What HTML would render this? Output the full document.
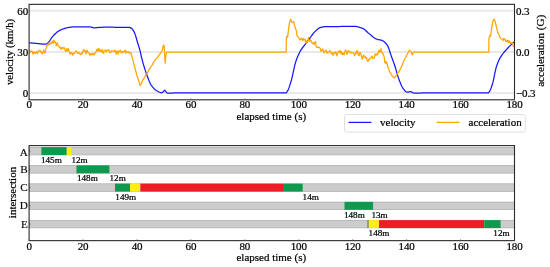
<!DOCTYPE html>
<html><head><meta charset="utf-8"><title>velocity / acceleration / intersection</title>
<style>
html,body{margin:0;padding:0;background:#fff;}
svg{display:block;font-family:"Liberation Serif", "DejaVu Serif", serif;}
text{fill:#000;stroke:#000;stroke-width:0.22px;}
.tk{font-size:11px;letter-spacing:-0.15px;}
.lb{font-size:11px;}
.an{font-size:9.15px;letter-spacing:0.02px;}
.yl{font-size:11.2px;stroke-width:0.15px;}
</style></head><body>
<svg width="550" height="267" viewBox="0 0 550 267">
<rect width="550" height="267" fill="#fff"/>

<line x1="29.1" x2="514.5" y1="10.7" y2="10.7" stroke="#e9e9e9" stroke-width="2"/>
<line x1="29.1" x2="514.5" y1="51.9" y2="51.9" stroke="#e9e9e9" stroke-width="2"/>
<line x1="29.1" x2="514.5" y1="93.1" y2="93.1" stroke="#e9e9e9" stroke-width="2"/>
<clipPath id="ct"><rect x="29.1" y="4.35" width="485.4" height="95.45"/></clipPath>
<g clip-path="url(#ct)" fill="none" stroke-linejoin="round">
<path d="M29.2,42.80 L29.7,42.84 L30.2,42.88 L30.7,42.92 L31.2,42.96 L31.7,43.01 L32.2,43.05 L32.7,43.09 L33.2,43.14 L33.7,43.18 L34.2,43.23 L34.7,43.27 L35.2,43.32 L35.7,43.37 L36.2,43.42 L36.7,43.47 L37.2,43.52 L37.7,43.58 L38.2,43.63 L38.7,43.68 L39.2,43.73 L39.7,43.77 L40.2,43.82 L40.7,43.86 L41.2,43.91 L41.7,43.96 L42.2,44.01 L42.7,44.05 L43.2,44.10 L43.7,44.13 L44.2,44.16 L44.7,44.19 L45.2,44.20 L45.7,44.18 L46.2,43.98 L46.7,43.65 L47.2,43.30 L47.7,42.93 L48.2,42.50 L48.7,42.02 L49.2,41.47 L49.7,40.80 L50.2,40.04 L50.7,39.24 L51.2,38.44 L51.7,37.70 L52.2,37.05 L52.7,36.45 L53.2,35.87 L53.7,35.33 L54.2,34.80 L54.7,34.29 L55.2,33.81 L55.7,33.33 L56.2,32.86 L56.7,32.41 L57.2,31.99 L57.7,31.61 L58.2,31.27 L58.7,30.96 L59.2,30.68 L59.7,30.41 L60.2,30.16 L60.7,29.93 L61.2,29.71 L61.7,29.51 L62.2,29.32 L62.7,29.14 L63.2,28.97 L63.7,28.80 L64.2,28.63 L64.7,28.47 L65.2,28.31 L65.7,28.15 L66.2,28.00 L66.7,27.87 L67.2,27.76 L67.7,27.65 L68.2,27.54 L68.7,27.44 L69.2,27.35 L69.7,27.26 L70.2,27.19 L70.7,27.13 L71.2,27.08 L71.7,27.04 L72.2,26.99 L72.7,26.95 L73.2,26.91 L73.7,26.88 L74.2,26.85 L74.7,26.83 L75.2,26.81 L75.7,26.80 L76.2,26.80 L76.7,26.80 L77.2,26.80 L77.7,26.80 L78.2,26.80 L78.7,26.80 L79.2,26.80 L79.7,26.80 L80.2,26.80 L80.7,26.80 L81.2,26.80 L81.7,26.80 L82.2,26.80 L82.7,26.80 L83.2,26.80 L83.7,26.80 L84.2,26.80 L84.7,26.80 L85.2,26.80 L85.7,26.80 L86.2,26.80 L86.7,26.80 L87.2,26.80 L87.7,26.80 L88.2,26.80 L88.7,26.80 L89.2,26.80 L89.7,26.81 L90.2,26.88 L90.7,26.99 L91.2,27.14 L91.7,27.30 L92.2,27.46 L92.7,27.61 L93.2,27.72 L93.7,27.79 L94.2,27.80 L94.7,27.79 L95.2,27.77 L95.7,27.74 L96.2,27.70 L96.7,27.66 L97.2,27.62 L97.7,27.57 L98.2,27.53 L98.7,27.49 L99.2,27.45 L99.7,27.42 L100.2,27.39 L100.7,27.36 L101.2,27.34 L101.7,27.31 L102.2,27.28 L102.7,27.26 L103.2,27.24 L103.7,27.22 L104.2,27.21 L104.7,27.20 L105.2,27.20 L105.7,27.20 L106.2,27.20 L106.7,27.20 L107.2,27.20 L107.7,27.21 L108.2,27.21 L108.7,27.21 L109.2,27.21 L109.7,27.22 L110.2,27.22 L110.7,27.22 L111.2,27.23 L111.7,27.23 L112.2,27.24 L112.7,27.24 L113.2,27.24 L113.7,27.25 L114.2,27.25 L114.7,27.26 L115.2,27.26 L115.7,27.27 L116.2,27.27 L116.7,27.28 L117.2,27.28 L117.7,27.28 L118.2,27.29 L118.7,27.29 L119.2,27.29 L119.7,27.30 L120.2,27.30 L120.7,27.30 L121.2,27.31 L121.7,27.31 L122.2,27.31 L122.7,27.31 L123.2,27.31 L123.7,27.31 L124.2,27.32 L124.7,27.32 L125.2,27.32 L125.7,27.32 L126.2,27.32 L126.7,27.33 L127.2,27.33 L127.7,27.34 L128.2,27.34 L128.7,27.35 L129.2,27.36 L129.7,27.45 L130.2,27.62 L130.7,27.85 L131.2,28.13 L131.7,28.44 L132.2,28.91 L132.7,29.53 L133.2,30.28 L133.7,31.10 L134.2,32.09 L134.7,33.30 L135.2,34.65 L135.7,36.09 L136.2,37.72 L136.7,39.49 L137.2,41.27 L137.7,42.96 L138.2,44.55 L138.7,46.11 L139.2,47.71 L139.7,49.41 L140.2,51.28 L140.7,53.46 L141.2,55.76 L141.7,57.99 L142.2,59.96 L142.7,61.80 L143.2,63.58 L143.7,65.31 L144.2,66.97 L144.7,68.58 L145.2,70.13 L145.7,71.62 L146.2,73.06 L146.7,74.45 L147.2,75.84 L147.7,77.22 L148.2,78.58 L148.7,79.89 L149.2,81.14 L149.7,82.30 L150.2,83.36 L150.7,84.30 L151.2,85.10 L151.7,85.80 L152.2,86.47 L152.7,87.11 L153.2,87.70 L153.7,88.26 L154.2,88.78 L154.7,89.26 L155.2,89.69 L155.7,90.09 L156.2,90.44 L156.7,90.74 L157.2,91.02 L157.7,91.30 L158.2,91.56 L158.7,91.82 L159.2,92.04 L159.7,92.24 L160.2,92.41 L160.7,92.52 L161.2,92.59 L161.7,92.58 L162.2,92.41 L162.7,92.12 L163.2,91.77 L163.7,91.26 L164.2,90.56 L164.7,90.20 L165.2,90.62 L165.7,91.37 L166.2,92.06 L166.7,92.76 L167.2,93.00 L167.7,93.00 L168.2,93.00 L168.7,93.00 L169.2,93.00 L169.7,93.00 L170.2,93.00 L170.7,93.00 L171.2,93.00 L171.7,93.00 L172.2,93.00 L172.7,93.00 L173.2,93.00 L173.7,92.99 L174.2,92.99 L174.7,92.99 L175.2,92.99 L175.7,92.99 L176.2,92.99 L176.7,92.99 L177.2,92.99 L177.7,92.99 L178.2,92.99 L178.7,92.99 L179.2,92.98 L179.7,92.98 L180.2,92.98 L180.7,92.98 L181.2,92.98 L181.7,92.98 L182.2,92.98 L182.7,92.98 L183.2,92.98 L183.7,92.97 L184.2,92.97 L184.7,92.97 L185.2,92.97 L185.7,92.97 L186.2,92.97 L186.7,92.97 L187.2,92.97 L187.7,92.97 L188.2,92.96 L188.7,92.96 L189.2,92.96 L189.7,92.96 L190.2,92.96 L190.7,92.96 L191.2,92.96 L191.7,92.96 L192.2,92.96 L192.7,92.96 L193.2,92.96 L193.7,92.95 L194.2,92.95 L194.7,92.95 L195.2,92.95 L195.7,92.95 L196.2,92.95 L196.7,92.95 L197.2,92.95 L197.7,92.95 L198.2,92.95 L198.7,92.95 L199.2,92.95 L199.7,92.95 L200.2,92.95 L200.7,92.95 L201.2,92.95 L201.7,92.95 L202.2,92.95 L202.7,92.95 L203.2,92.95 L203.7,92.95 L204.2,92.95 L204.7,92.95 L205.2,92.95 L205.7,92.95 L206.2,92.95 L206.7,92.95 L207.2,92.95 L207.7,92.95 L208.2,92.95 L208.7,92.95 L209.2,92.95 L209.7,92.95 L210.2,92.95 L210.7,92.95 L211.2,92.95 L211.7,92.95 L212.2,92.95 L212.7,92.95 L213.2,92.95 L213.7,92.95 L214.2,92.95 L214.7,92.95 L215.2,92.95 L215.7,92.95 L216.2,92.95 L216.7,92.95 L217.2,92.95 L217.7,92.95 L218.2,92.95 L218.7,92.95 L219.2,92.95 L219.7,92.95 L220.2,92.95 L220.7,92.95 L221.2,92.95 L221.7,92.95 L222.2,92.95 L222.7,92.95 L223.2,92.95 L223.7,92.95 L224.2,92.95 L224.7,92.95 L225.2,92.95 L225.7,92.95 L226.2,92.95 L226.7,92.95 L227.2,92.95 L227.7,92.95 L228.2,92.95 L228.7,92.95 L229.2,92.95 L229.7,92.95 L230.2,92.95 L230.7,92.95 L231.2,92.95 L231.7,92.95 L232.2,92.95 L232.7,92.95 L233.2,92.95 L233.7,92.95 L234.2,92.95 L234.7,92.95 L235.2,92.95 L235.7,92.95 L236.2,92.95 L236.7,92.95 L237.2,92.95 L237.7,92.95 L238.2,92.95 L238.7,92.95 L239.2,92.95 L239.7,92.95 L240.2,92.95 L240.7,92.95 L241.2,92.95 L241.7,92.95 L242.2,92.95 L242.7,92.95 L243.2,92.95 L243.7,92.95 L244.2,92.95 L244.7,92.95 L245.2,92.95 L245.7,92.95 L246.2,92.95 L246.7,92.95 L247.2,92.95 L247.7,92.95 L248.2,92.95 L248.7,92.95 L249.2,92.95 L249.7,92.95 L250.2,92.95 L250.7,92.95 L251.2,92.95 L251.7,92.95 L252.2,92.95 L252.7,92.95 L253.2,92.95 L253.7,92.95 L254.2,92.95 L254.7,92.95 L255.2,92.95 L255.7,92.95 L256.2,92.95 L256.7,92.95 L257.2,92.95 L257.7,92.95 L258.2,92.95 L258.7,92.95 L259.2,92.95 L259.7,92.95 L260.2,92.95 L260.7,92.95 L261.2,92.95 L261.7,92.95 L262.2,92.95 L262.7,92.95 L263.2,92.95 L263.7,92.95 L264.2,92.95 L264.7,92.95 L265.2,92.95 L265.7,92.95 L266.2,92.95 L266.7,92.95 L267.2,92.95 L267.7,92.95 L268.2,92.95 L268.7,92.95 L269.2,92.95 L269.7,92.95 L270.2,92.95 L270.7,92.95 L271.2,92.95 L271.7,92.95 L272.2,92.95 L272.7,92.95 L273.2,92.95 L273.7,92.95 L274.2,92.95 L274.7,92.95 L275.2,92.95 L275.7,92.95 L276.2,92.95 L276.7,92.95 L277.2,92.95 L277.7,92.95 L278.2,92.95 L278.7,92.95 L279.2,92.95 L279.7,92.95 L280.2,92.95 L280.7,92.95 L281.2,92.95 L281.7,92.95 L282.2,92.95 L282.7,92.95 L283.2,92.95 L283.7,92.95 L284.2,92.95 L284.7,92.95 L285.2,92.95 L285.7,92.95 L286.2,92.79 L286.7,92.23 L287.2,91.47 L287.7,90.67 L288.2,89.68 L288.7,88.49 L289.2,87.13 L289.7,85.65 L290.2,84.08 L290.7,82.47 L291.2,80.83 L291.7,78.98 L292.2,76.91 L292.7,74.70 L293.2,72.41 L293.7,70.10 L294.2,67.83 L294.7,65.67 L295.2,63.68 L295.7,61.92 L296.2,60.43 L296.7,59.07 L297.2,57.77 L297.7,56.54 L298.2,55.38 L298.7,54.27 L299.2,53.23 L299.7,52.24 L300.2,51.31 L300.7,50.43 L301.2,49.60 L301.7,48.83 L302.2,48.14 L302.7,47.49 L303.2,46.88 L303.7,46.26 L304.2,45.63 L304.7,44.98 L305.2,44.33 L305.7,43.68 L306.2,43.04 L306.7,42.40 L307.2,41.75 L307.7,41.11 L308.2,40.46 L308.7,39.80 L309.2,39.13 L309.7,38.43 L310.2,37.71 L310.7,36.99 L311.2,36.26 L311.7,35.55 L312.2,34.85 L312.7,34.18 L313.2,33.54 L313.7,32.95 L314.2,32.40 L314.7,31.90 L315.2,31.39 L315.7,30.89 L316.2,30.40 L316.7,29.93 L317.2,29.48 L317.7,29.06 L318.2,28.68 L318.7,28.34 L319.2,28.05 L319.7,27.81 L320.2,27.63 L320.7,27.47 L321.2,27.32 L321.7,27.18 L322.2,27.05 L322.7,26.94 L323.2,26.84 L323.7,26.77 L324.2,26.72 L324.7,26.70 L325.2,26.68 L325.7,26.67 L326.2,26.66 L326.7,26.65 L327.2,26.64 L327.7,26.63 L328.2,26.62 L328.7,26.61 L329.2,26.60 L329.7,26.60 L330.2,26.59 L330.7,26.59 L331.2,26.58 L331.7,26.58 L332.2,26.57 L332.7,26.57 L333.2,26.56 L333.7,26.56 L334.2,26.56 L334.7,26.55 L335.2,26.55 L335.7,26.54 L336.2,26.54 L336.7,26.54 L337.2,26.53 L337.7,26.53 L338.2,26.52 L338.7,26.52 L339.2,26.51 L339.7,26.50 L340.2,26.50 L340.7,26.49 L341.2,26.48 L341.7,26.47 L342.2,26.46 L342.7,26.46 L343.2,26.45 L343.7,26.44 L344.2,26.43 L344.7,26.42 L345.2,26.41 L345.7,26.40 L346.2,26.39 L346.7,26.38 L347.2,26.37 L347.7,26.36 L348.2,26.35 L348.7,26.34 L349.2,26.34 L349.7,26.33 L350.2,26.32 L350.7,26.32 L351.2,26.31 L351.7,26.31 L352.2,26.30 L352.7,26.30 L353.2,26.30 L353.7,26.30 L354.2,26.31 L354.7,26.34 L355.2,26.37 L355.7,26.41 L356.2,26.47 L356.7,26.56 L357.2,26.67 L357.7,26.80 L358.2,26.95 L358.7,27.10 L359.2,27.25 L359.7,27.41 L360.2,27.56 L360.7,27.71 L361.2,27.86 L361.7,28.03 L362.2,28.21 L362.7,28.42 L363.2,28.65 L363.7,28.93 L364.2,29.28 L364.7,29.66 L365.2,30.09 L365.7,30.54 L366.2,31.02 L366.7,31.50 L367.2,31.97 L367.7,32.44 L368.2,32.89 L368.7,33.30 L369.2,33.70 L369.7,34.12 L370.2,34.54 L370.7,34.97 L371.2,35.40 L371.7,35.83 L372.2,36.25 L372.7,36.66 L373.2,37.05 L373.7,37.43 L374.2,37.78 L374.7,38.11 L375.2,38.41 L375.7,38.67 L376.2,38.90 L376.7,39.09 L377.2,39.26 L377.7,39.40 L378.2,39.53 L378.7,39.64 L379.2,39.75 L379.7,39.86 L380.2,39.97 L380.7,40.09 L381.2,40.22 L381.7,40.38 L382.2,40.55 L382.7,40.76 L383.2,41.01 L383.7,41.36 L384.2,41.77 L384.7,42.22 L385.2,42.69 L385.7,43.18 L386.2,43.72 L386.7,44.33 L387.2,45.03 L387.7,45.85 L388.2,46.92 L388.7,48.21 L389.2,49.66 L389.7,51.21 L390.2,52.79 L390.7,54.34 L391.2,55.80 L391.7,57.18 L392.2,58.54 L392.7,59.90 L393.2,61.26 L393.7,62.64 L394.2,64.05 L394.7,65.50 L395.2,67.02 L395.7,68.65 L396.2,70.38 L396.7,72.14 L397.2,73.90 L397.7,75.59 L398.2,77.18 L398.7,78.60 L399.2,79.93 L399.7,81.24 L400.2,82.53 L400.7,83.76 L401.2,84.94 L401.7,86.03 L402.2,87.02 L402.7,87.90 L403.2,88.64 L403.7,89.27 L404.2,89.88 L404.7,90.47 L405.2,91.01 L405.7,91.47 L406.2,91.83 L406.7,92.04 L407.2,92.10 L407.7,92.07 L408.2,92.02 L408.7,91.95 L409.2,91.87 L409.7,91.79 L410.2,91.74 L410.7,91.70 L411.2,91.74 L411.7,91.96 L412.2,92.28 L412.7,92.62 L413.2,92.89 L413.7,93.00 L414.2,93.00 L414.7,93.00 L415.2,93.00 L415.7,93.00 L416.2,93.00 L416.7,93.00 L417.2,93.00 L417.7,93.00 L418.2,93.00 L418.7,93.00 L419.2,93.00 L419.7,93.00 L420.2,93.00 L420.7,93.00 L421.2,92.99 L421.7,92.99 L422.2,92.99 L422.7,92.99 L423.2,92.99 L423.7,92.99 L424.2,92.99 L424.7,92.99 L425.2,92.99 L425.7,92.99 L426.2,92.99 L426.7,92.99 L427.2,92.98 L427.7,92.98 L428.2,92.98 L428.7,92.98 L429.2,92.98 L429.7,92.98 L430.2,92.98 L430.7,92.98 L431.2,92.98 L431.7,92.98 L432.2,92.97 L432.7,92.97 L433.2,92.97 L433.7,92.97 L434.2,92.97 L434.7,92.97 L435.2,92.97 L435.7,92.97 L436.2,92.97 L436.7,92.97 L437.2,92.96 L437.7,92.96 L438.2,92.96 L438.7,92.96 L439.2,92.96 L439.7,92.96 L440.2,92.96 L440.7,92.96 L441.2,92.96 L441.7,92.96 L442.2,92.96 L442.7,92.96 L443.2,92.95 L443.7,92.95 L444.2,92.95 L444.7,92.95 L445.2,92.95 L445.7,92.95 L446.2,92.95 L446.7,92.95 L447.2,92.95 L447.7,92.95 L448.2,92.95 L448.7,92.95 L449.2,92.95 L449.7,92.95 L450.2,92.95 L450.7,92.95 L451.2,92.95 L451.7,92.95 L452.2,92.95 L452.7,92.95 L453.2,92.95 L453.7,92.95 L454.2,92.95 L454.7,92.95 L455.2,92.95 L455.7,92.95 L456.2,92.95 L456.7,92.95 L457.2,92.95 L457.7,92.95 L458.2,92.95 L458.7,92.95 L459.2,92.95 L459.7,92.95 L460.2,92.95 L460.7,92.95 L461.2,92.95 L461.7,92.95 L462.2,92.95 L462.7,92.95 L463.2,92.95 L463.7,92.95 L464.2,92.95 L464.7,92.95 L465.2,92.95 L465.7,92.95 L466.2,92.95 L466.7,92.95 L467.2,92.95 L467.7,92.95 L468.2,92.95 L468.7,92.95 L469.2,92.95 L469.7,92.95 L470.2,92.95 L470.7,92.95 L471.2,92.95 L471.7,92.95 L472.2,92.95 L472.7,92.95 L473.2,92.95 L473.7,92.95 L474.2,92.95 L474.7,92.95 L475.2,92.95 L475.7,92.95 L476.2,92.95 L476.7,92.95 L477.2,92.95 L477.7,92.95 L478.2,92.95 L478.7,92.95 L479.2,92.95 L479.7,92.95 L480.2,92.95 L480.7,92.95 L481.2,92.95 L481.7,92.95 L482.2,92.95 L482.7,92.95 L483.2,92.95 L483.7,92.95 L484.2,92.95 L484.7,92.95 L485.2,92.95 L485.7,92.95 L486.2,92.95 L486.7,92.95 L487.2,92.95 L487.7,92.95 L488.2,92.91 L488.7,92.53 L489.2,91.91 L489.7,91.21 L490.2,90.29 L490.7,89.13 L491.2,87.79 L491.7,86.32 L492.2,84.76 L492.7,83.12 L493.2,81.16 L493.7,78.90 L494.2,76.47 L494.7,73.97 L495.2,71.55 L495.7,69.30 L496.2,67.36 L496.7,65.78 L497.2,64.34 L497.7,63.00 L498.2,61.77 L498.7,60.64 L499.2,59.59 L499.7,58.62 L500.2,57.73 L500.7,56.90 L501.2,56.12 L501.7,55.38 L502.2,54.68 L502.7,54.00 L503.2,53.34 L503.7,52.71 L504.2,52.11 L504.7,51.53 L505.2,50.97 L505.7,50.42 L506.2,49.87 L506.7,49.33 L507.2,48.78 L507.7,48.23 L508.2,47.68 L508.7,47.14 L509.2,46.61 L509.7,46.09 L510.2,45.58 L510.7,45.09 L511.2,44.62 L511.7,44.16 L512.2,43.72 L512.7,43.29 L513.2,42.87 L513.7,42.47 L514.2,42.08" stroke="#1616fb" stroke-width="1.25"/>
<path d="M29.2,52.39 L29.8,52.64 L30.3,51.83 L30.9,51.02 L31.4,51.30 L32.0,51.05 L32.5,52.68 L33.1,54.18 L33.6,52.14 L34.2,51.81 L34.7,53.24 L35.3,53.36 L35.8,52.76 L36.4,51.65 L36.9,52.82 L37.5,53.53 L38.0,51.39 L38.6,51.66 L39.1,50.26 L39.7,50.57 L40.2,50.54 L40.8,52.25 L41.3,51.82 L41.9,53.54 L42.4,53.73 L43.0,52.56 L43.5,49.89 L44.1,51.86 L44.6,52.95 L45.2,52.57 L45.7,49.25 L46.3,47.95 L46.8,46.01 L47.4,44.97 L47.9,45.53 L48.5,43.05 L49.0,43.63 L49.6,44.53 L50.1,42.92 L50.7,43.10 L51.2,43.36 L51.8,42.73 L52.3,41.03 L52.9,42.34 L53.4,43.22 L54.0,40.19 L54.5,42.23 L55.1,41.93 L55.6,42.01 L56.2,45.62 L56.7,44.89 L57.3,42.92 L57.8,44.76 L58.4,46.15 L58.9,46.08 L59.5,47.28 L60.0,47.16 L60.6,48.49 L61.1,49.45 L61.7,47.46 L62.2,48.14 L62.8,47.97 L63.3,48.47 L63.9,47.35 L64.4,48.16 L65.0,49.40 L65.5,51.28 L66.1,51.48 L66.6,48.72 L67.2,49.39 L67.7,50.98 L68.3,48.68 L68.8,50.40 L69.4,52.05 L69.9,54.14 L70.5,53.83 L71.0,52.64 L71.6,52.59 L72.1,53.44 L72.7,55.38 L73.2,53.38 L73.8,53.07 L74.3,53.61 L74.9,52.86 L75.4,52.03 L76.0,50.79 L76.5,51.58 L77.1,51.60 L77.6,53.39 L78.2,53.11 L78.7,52.54 L79.3,53.34 L79.8,53.00 L80.4,54.63 L80.9,54.12 L81.5,54.26 L82.0,52.45 L82.6,53.29 L83.1,50.60 L83.7,49.56 L84.2,51.03 L84.8,50.52 L85.3,51.91 L85.9,53.81 L86.4,50.38 L87.0,50.24 L87.5,51.88 L88.1,52.85 L88.6,52.67 L89.2,53.34 L89.7,55.08 L90.3,55.15 L90.8,53.66 L91.4,54.61 L91.9,54.66 L92.5,53.46 L93.0,54.32 L93.6,53.42 L94.1,54.94 L94.7,54.03 L95.2,53.12 L95.8,51.98 L96.3,51.57 L96.9,49.18 L97.4,49.86 L98.0,51.02 L98.5,48.73 L99.1,51.04 L99.6,49.16 L100.2,51.26 L100.7,50.32 L101.3,51.82 L101.8,50.96 L102.4,49.37 L102.9,52.61 L103.5,53.23 L104.0,51.24 L104.6,50.58 L105.1,50.44 L105.7,49.99 L106.2,52.05 L106.8,50.65 L107.3,50.67 L107.9,49.93 L108.4,49.81 L109.0,49.78 L109.5,52.58 L110.1,51.82 L110.6,52.69 L111.2,51.61 L111.7,50.58 L112.3,50.88 L112.8,50.92 L113.4,51.59 L113.9,51.36 L114.5,51.14 L115.0,50.00 L115.6,51.22 L116.1,54.03 L116.7,51.62 L117.2,50.90 L117.8,52.94 L118.3,53.93 L118.9,50.82 L119.4,51.51 L120.0,50.97 L120.5,50.04 L121.1,52.75 L121.6,52.46 L122.2,52.10 L122.7,51.35 L123.3,52.40 L123.8,51.52 L124.4,51.47 L124.9,50.27 L125.5,50.57 L126.0,53.38 L126.6,51.95 L127.1,52.46 L127.7,52.24 L128.2,51.71 L128.8,51.95 L129.3,53.31 L129.9,52.60 L130.4,52.77 L131.0,53.30 L131.3,53.90 L131.9,56.14 L132.4,58.24 L133.0,60.07 L133.5,62.02 L134.1,64.78 L134.6,66.93 L135.2,68.68 L135.7,70.85 L136.3,72.96 L136.8,74.95 L137.4,76.80 L137.9,78.39 L138.5,80.55 L139.0,81.76 L139.6,83.90 L140.0,85.31 L140.6,84.59 L141.1,83.96 L141.7,82.80 L142.2,81.00 L142.8,79.90 L143.3,79.59 L143.9,78.34 L144.4,77.67 L145.0,76.92 L145.5,75.27 L146.1,74.21 L146.6,73.99 L147.2,73.16 L147.7,72.17 L148.3,71.28 L148.8,70.09 L149.4,69.02 L149.9,68.45 L150.5,67.35 L151.0,66.33 L151.6,66.00 L152.1,65.09 L152.7,64.20 L153.2,62.93 L153.8,62.04 L154.3,61.10 L154.9,60.34 L155.4,59.80 L156.0,58.87 L156.5,58.40 L157.1,57.84 L157.6,57.42 L158.2,55.93 L158.7,55.67 L159.3,54.86 L159.8,54.09 L160.4,53.13 L160.6,53.30 L162.3,50.50 L163.2,45.50 L163.7,44.90 L164.2,46.50 L164.7,56.50 L165.2,63.10 L165.7,57.50 L166.5,52.00 L286.2,52.00 L286.3,38.50 L287.0,36.10 L287.6,37.30 L288.3,31.50 L288.3,31.39 L288.9,26.61 L289.4,22.84 L290.0,20.55 L290.5,19.41 L291.1,19.80 L291.6,22.12 L292.2,22.62 L292.7,22.16 L293.3,21.65 L293.8,22.31 L294.4,24.80 L294.9,27.04 L295.5,28.34 L296.0,29.78 L296.6,32.02 L296.8,35.13 L297.4,36.00 L297.9,36.96 L298.5,37.43 L299.0,38.24 L299.6,39.67 L300.1,39.77 L300.7,39.11 L301.2,37.95 L301.8,39.59 L302.3,39.12 L302.9,40.74 L303.4,38.48 L304.0,39.55 L304.5,39.82 L305.1,39.06 L305.6,42.96 L306.2,43.04 L306.7,40.75 L307.3,41.88 L307.8,40.90 L308.4,37.55 L308.9,40.67 L309.5,41.24 L310.0,41.12 L310.6,39.91 L311.1,40.86 L311.7,41.79 L312.2,43.65 L312.8,42.95 L313.3,42.89 L313.9,44.60 L314.4,42.56 L315.0,42.17 L315.5,41.73 L316.1,46.40 L316.6,47.12 L317.2,47.38 L317.7,47.43 L318.3,47.18 L318.8,47.56 L319.4,47.47 L319.9,47.93 L320.5,49.14 L321.0,51.32 L321.6,50.58 L322.1,49.63 L322.7,49.04 L323.2,49.80 L323.8,52.91 L324.3,52.21 L324.9,51.42 L325.4,50.74 L326.0,50.10 L326.5,51.81 L327.1,53.23 L327.6,51.92 L328.2,51.89 L328.7,52.15 L329.3,52.20 L329.8,50.42 L330.4,51.72 L330.9,51.87 L331.5,53.70 L332.0,52.37 L332.6,54.11 L333.1,55.33 L333.7,53.00 L334.2,52.31 L334.8,53.29 L335.3,52.95 L335.9,51.92 L336.4,54.08 L337.0,55.94 L337.5,53.16 L338.1,52.21 L338.6,51.36 L339.2,52.44 L339.7,50.59 L340.3,50.92 L340.8,53.55 L341.4,51.70 L341.9,53.88 L342.5,54.64 L343.0,53.03 L343.6,53.45 L344.1,54.84 L344.7,52.14 L345.2,50.72 L345.8,49.97 L346.3,52.15 L346.9,54.45 L347.4,53.62 L348.0,50.86 L348.5,50.56 L349.1,51.37 L349.6,52.49 L350.2,52.21 L350.7,52.73 L351.3,52.86 L351.8,52.19 L352.4,52.51 L352.9,52.91 L353.5,52.83 L354.0,54.07 L354.6,55.88 L355.1,54.47 L355.7,52.97 L356.2,51.15 L356.8,53.01 L357.3,50.72 L357.9,51.65 L358.4,55.14 L359.0,55.57 L359.5,54.08 L360.1,52.27 L360.6,53.81 L361.2,54.45 L361.7,57.02 L362.3,59.45 L362.8,57.20 L363.4,55.50 L363.9,55.42 L364.5,57.25 L365.0,57.52 L365.6,56.85 L366.1,58.26 L366.7,57.77 L367.2,60.69 L367.8,61.35 L368.3,60.87 L368.9,58.94 L369.4,59.57 L370.0,58.77 L370.5,58.09 L371.1,57.62 L371.6,56.07 L372.2,56.05 L372.7,58.63 L373.3,57.81 L373.8,57.99 L374.4,57.91 L374.9,54.01 L375.5,54.14 L376.0,55.15 L376.6,54.85 L377.1,53.65 L377.7,54.63 L378.2,53.03 L378.8,50.40 L379.3,50.41 L379.9,52.39 L380.4,51.34 L381.0,48.61 L381.5,52.04 L382.1,52.22 L382.6,53.83 L383.2,53.93 L383.7,55.65 L384.3,57.25 L384.8,62.57 L385.4,61.52 L385.9,63.46 L386.5,61.81 L386.5,62.21 L387.1,63.45 L387.6,65.78 L388.2,67.98 L388.7,68.92 L389.3,71.10 L389.8,72.14 L390.4,72.62 L390.9,73.74 L391.5,74.79 L392.0,75.80 L392.6,76.38 L393.1,76.93 L393.7,77.71 L394.0,77.86 L394.6,77.22 L395.1,76.97 L395.7,76.49 L396.2,75.29 L396.8,74.78 L397.3,73.90 L397.9,73.07 L398.4,72.61 L399.0,71.59 L399.5,70.93 L400.1,69.45 L400.6,68.46 L401.2,67.14 L401.7,65.81 L402.3,64.82 L402.8,63.47 L403.4,62.31 L403.9,60.86 L404.5,59.37 L405.0,58.39 L405.6,57.40 L406.1,56.49 L406.7,55.11 L407.2,54.19 L407.8,53.01 L408.3,52.56 L408.9,51.33 L409.4,50.31 L409.5,50.70 L411.0,51.50 L412.2,54.80 L413.7,52.00 L488.8,52.00 L488.9,38.50 L490.0,35.10 L490.7,36.00 L491.5,29.50 L491.5,29.56 L492.1,25.97 L492.6,22.38 L493.2,20.49 L493.7,19.54 L494.3,19.18 L494.8,20.44 L495.4,22.35 L495.9,24.85 L496.5,27.42 L497.0,29.57 L497.6,32.00 L498.1,33.13 L498.7,34.10 L499.2,35.29 L499.8,37.40 L500.3,37.82 L500.9,38.48 L501.4,38.82 L501.8,39.03 L502.4,39.57 L502.9,40.79 L503.5,38.97 L504.0,38.44 L504.6,39.00 L505.1,39.46 L505.7,41.33 L506.2,41.71 L506.8,40.50 L507.3,40.27 L507.9,41.54 L508.4,42.62 L509.0,40.40 L509.5,42.31 L510.1,42.25 L510.6,43.59 L511.2,42.75 L511.7,43.20 L512.3,42.91 L512.8,44.03 L513.4,46.44 L513.9,46.84" stroke="#ffa500" stroke-width="1.25"/>
</g>
<rect x="29.1" y="4.35" width="485.4" height="95.45" fill="none" stroke="#2a2a2a" stroke-width="1.1"/>
<line x1="29.1" x2="29.1" y1="99.8" y2="98.39999999999999" stroke="#555" stroke-width="0.7"/>
<text class="tk" x="29.1" y="108.4" text-anchor="middle">0</text>
<line x1="83.0" x2="83.0" y1="99.8" y2="98.39999999999999" stroke="#555" stroke-width="0.7"/>
<text class="tk" x="83.0" y="108.4" text-anchor="middle">20</text>
<line x1="137.0" x2="137.0" y1="99.8" y2="98.39999999999999" stroke="#555" stroke-width="0.7"/>
<text class="tk" x="137.0" y="108.4" text-anchor="middle">40</text>
<line x1="190.9" x2="190.9" y1="99.8" y2="98.39999999999999" stroke="#555" stroke-width="0.7"/>
<text class="tk" x="190.9" y="108.4" text-anchor="middle">60</text>
<line x1="244.8" x2="244.8" y1="99.8" y2="98.39999999999999" stroke="#555" stroke-width="0.7"/>
<text class="tk" x="244.8" y="108.4" text-anchor="middle">80</text>
<line x1="298.8" x2="298.8" y1="99.8" y2="98.39999999999999" stroke="#555" stroke-width="0.7"/>
<text class="tk" x="298.8" y="108.4" text-anchor="middle">100</text>
<line x1="352.7" x2="352.7" y1="99.8" y2="98.39999999999999" stroke="#555" stroke-width="0.7"/>
<text class="tk" x="352.7" y="108.4" text-anchor="middle">120</text>
<line x1="406.6" x2="406.6" y1="99.8" y2="98.39999999999999" stroke="#555" stroke-width="0.7"/>
<text class="tk" x="406.6" y="108.4" text-anchor="middle">140</text>
<line x1="460.6" x2="460.6" y1="99.8" y2="98.39999999999999" stroke="#555" stroke-width="0.7"/>
<text class="tk" x="460.6" y="108.4" text-anchor="middle">160</text>
<line x1="514.5" x2="514.5" y1="99.8" y2="98.39999999999999" stroke="#555" stroke-width="0.7"/>
<text class="tk" x="514.5" y="108.4" text-anchor="middle">180</text>
<text class="tk" x="28.0" y="14.5" text-anchor="end">60</text>
<text class="tk" x="28.0" y="55.7" text-anchor="end">30</text>
<text class="tk" x="28.0" y="96.9" text-anchor="end">0</text>
<text class="tk" x="516" y="14.5">0.3</text>
<text class="tk" x="516" y="55.7">0.0</text>
<text class="tk" x="516" y="96.9">−0.3</text>
<text class="lb" x="271.3" y="119.8" text-anchor="middle">elapsed time (s)</text>
<text class="lb" style="font-size:10.7px" transform="translate(12.5,52) rotate(-90)" text-anchor="middle">velocity (km/h)</text>
<text class="lb" style="font-size:11.15px" transform="translate(544.3,50.8) rotate(-90)" text-anchor="middle">acceleration (G)</text>
<rect x="344.5" y="114.5" width="180.8" height="17.6" rx="2" ry="2" fill="#fff" stroke="#e0e0e0" stroke-width="1"/>
<line x1="348.6" x2="371.4" y1="122.4" y2="122.4" stroke="#1616fb" stroke-width="1.25"/>
<text class="lb" x="380.1" y="125.8">velocity</text>
<line x1="436.7" x2="459.5" y1="122.4" y2="122.4" stroke="#ffa500" stroke-width="1.3"/>
<text class="lb" x="468.5" y="125.8">acceleration</text>
<rect x="29.1" y="147.30" width="485.4" height="7.6" fill="#cccccc" stroke="#ababab" stroke-width="0.7"/>
<rect x="41.4" y="147.15" width="25.3" height="7.8999999999999995" fill="#0e9a4e"/>
<rect x="66.8" y="147.15" width="4.6" height="7.8999999999999995" fill="#ffee11"/>
<text class="an" x="40.9" y="163.0">145m</text>
<text class="an" x="71.4" y="163.0">12m</text>
<line x1="29.1" x2="30.5" y1="151.1" y2="151.1" stroke="#555" stroke-width="0.7"/>
<text class="yl" x="27.8" y="155.5" text-anchor="end">A</text>
<rect x="29.1" y="165.55" width="485.4" height="7.6" fill="#cccccc" stroke="#ababab" stroke-width="0.7"/>
<rect x="76.5" y="165.40" width="32.9" height="7.8999999999999995" fill="#0e9a4e"/>
<text class="an" x="76.9" y="181.3">148m</text>
<text class="an" x="109.5" y="181.3">12m</text>
<line x1="29.1" x2="30.5" y1="169.3" y2="169.3" stroke="#555" stroke-width="0.7"/>
<text class="yl" x="27.8" y="173.3" text-anchor="end">B</text>
<rect x="29.1" y="183.80" width="485.4" height="7.6" fill="#cccccc" stroke="#ababab" stroke-width="0.7"/>
<rect x="115.0" y="183.65" width="15.1" height="7.8999999999999995" fill="#0e9a4e"/>
<rect x="130.1" y="183.65" width="10.2" height="7.8999999999999995" fill="#ffee11"/>
<rect x="140.4" y="183.65" width="142.6" height="7.8999999999999995" fill="#ee1c25"/>
<rect x="283.0" y="183.65" width="19.7" height="7.8999999999999995" fill="#0e9a4e"/>
<text class="an" x="115.3" y="199.5">149m</text>
<text class="an" x="302.6" y="199.5">14m</text>
<line x1="29.1" x2="30.5" y1="187.6" y2="187.6" stroke="#555" stroke-width="0.7"/>
<text class="yl" x="27.8" y="191.1" text-anchor="end">C</text>
<rect x="29.1" y="202.05" width="485.4" height="7.6" fill="#cccccc" stroke="#ababab" stroke-width="0.7"/>
<rect x="344.5" y="201.90" width="28.6" height="7.8999999999999995" fill="#0e9a4e"/>
<text class="an" x="343.9" y="217.8">148m</text>
<text class="an" x="371.4" y="217.8">13m</text>
<line x1="29.1" x2="30.5" y1="205.8" y2="205.8" stroke="#555" stroke-width="0.7"/>
<text class="yl" x="27.8" y="209.2" text-anchor="end">D</text>
<rect x="29.1" y="220.30" width="485.4" height="7.6" fill="#cccccc" stroke="#ababab" stroke-width="0.7"/>
<rect x="367.5" y="220.15" width="1.2" height="7.8999999999999995" fill="#3c7a4c"/>
<rect x="368.7" y="220.15" width="10.2" height="7.8999999999999995" fill="#ffee11"/>
<rect x="379.0" y="220.15" width="105.4" height="7.8999999999999995" fill="#ee1c25"/>
<rect x="484.4" y="220.15" width="16.2" height="7.8999999999999995" fill="#0e9a4e"/>
<text class="an" x="368.6" y="236.0">148m</text>
<text class="an" x="493.3" y="236.0">12m</text>
<line x1="29.1" x2="30.5" y1="224.1" y2="224.1" stroke="#555" stroke-width="0.7"/>
<text class="yl" x="27.8" y="227.6" text-anchor="end">E</text>
<rect x="29.1" y="145.6" width="485.4" height="95.05000000000001" fill="none" stroke="#2a2a2a" stroke-width="1.1"/>
<line x1="29.1" x2="29.1" y1="240.65" y2="239.25" stroke="#555" stroke-width="0.7"/>
<text class="tk" x="29.1" y="249.5" text-anchor="middle">0</text>
<line x1="83.0" x2="83.0" y1="240.65" y2="239.25" stroke="#555" stroke-width="0.7"/>
<text class="tk" x="83.0" y="249.5" text-anchor="middle">20</text>
<line x1="137.0" x2="137.0" y1="240.65" y2="239.25" stroke="#555" stroke-width="0.7"/>
<text class="tk" x="137.0" y="249.5" text-anchor="middle">40</text>
<line x1="190.9" x2="190.9" y1="240.65" y2="239.25" stroke="#555" stroke-width="0.7"/>
<text class="tk" x="190.9" y="249.5" text-anchor="middle">60</text>
<line x1="244.8" x2="244.8" y1="240.65" y2="239.25" stroke="#555" stroke-width="0.7"/>
<text class="tk" x="244.8" y="249.5" text-anchor="middle">80</text>
<line x1="298.8" x2="298.8" y1="240.65" y2="239.25" stroke="#555" stroke-width="0.7"/>
<text class="tk" x="298.8" y="249.5" text-anchor="middle">100</text>
<line x1="352.7" x2="352.7" y1="240.65" y2="239.25" stroke="#555" stroke-width="0.7"/>
<text class="tk" x="352.7" y="249.5" text-anchor="middle">120</text>
<line x1="406.6" x2="406.6" y1="240.65" y2="239.25" stroke="#555" stroke-width="0.7"/>
<text class="tk" x="406.6" y="249.5" text-anchor="middle">140</text>
<line x1="460.6" x2="460.6" y1="240.65" y2="239.25" stroke="#555" stroke-width="0.7"/>
<text class="tk" x="460.6" y="249.5" text-anchor="middle">160</text>
<line x1="514.5" x2="514.5" y1="240.65" y2="239.25" stroke="#555" stroke-width="0.7"/>
<text class="tk" x="514.5" y="249.5" text-anchor="middle">180</text>
<text class="lb" x="271.3" y="260.8" text-anchor="middle">elapsed time (s)</text>
<text class="lb" transform="translate(16.2,192.5) rotate(-90)" text-anchor="middle">intersection</text>
</svg></body></html>
